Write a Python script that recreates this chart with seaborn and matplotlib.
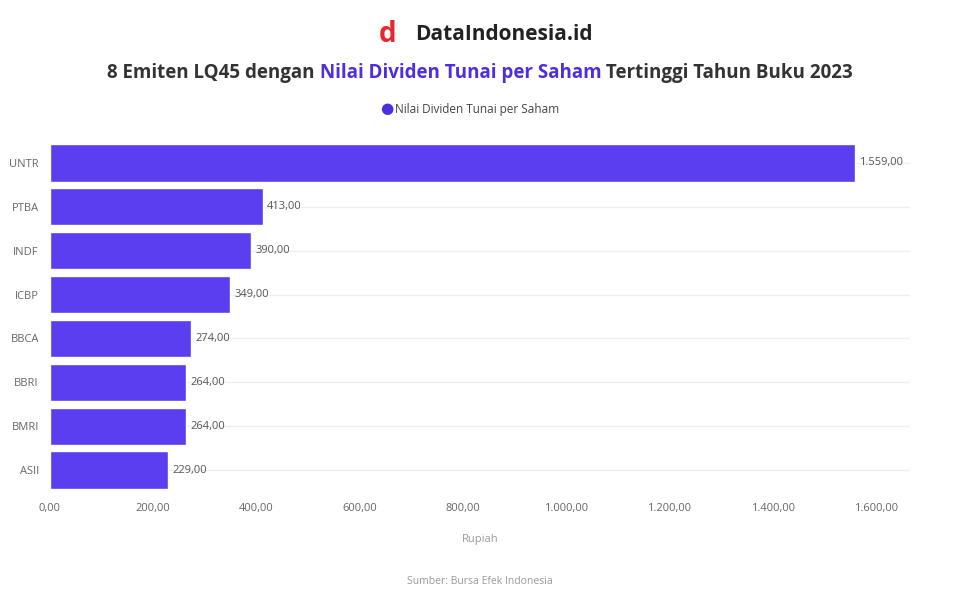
import matplotlib
matplotlib.use("Agg")
import matplotlib.pyplot as plt
import seaborn as sns
import pandas as pd
from matplotlib.ticker import FuncFormatter

emiten = ["UNTR", "PTBA", "INDF", "ICBP", "BBCA", "BBRI", "BMRI", "ASII"]
dividen = [1559, 413, 390, 349, 274, 264, 264, 229]
ticks = [0, 200, 400, 600, 800, 1000, 1200, 1400, 1600]

df = pd.DataFrame({"Emiten": emiten, "Dividen": dividen})
sns.set_theme(style="white")
plt.rcParams['font.family'] = ['Open Sans', 'DejaVu Sans']

fig = plt.figure(figsize=(9.6, 6), dpi=100)
ax = fig.add_axes([0.052, 0.18, 0.896, 0.585])
color = "#5a3ef0"
sns.barplot(data=df, x="Dividen", y="Emiten", color=color, ax=ax, width=0.85, saturation=1)
ax.set_xlim(0, 1666)
ax.set_xticks(ticks)
def fmt(v, p):
    s = f"{v:,.2f}"
    return s.replace(",", "X").replace(".", ",").replace("X", ".")
ax.xaxis.set_major_formatter(FuncFormatter(fmt))
ax.tick_params(axis='both', colors="#666666", labelsize=8, length=0, pad=8)
ax.grid(axis='y', color="#eeeeee")
for s in ax.spines.values():
    s.set_visible(False)
ax.set_ylabel("")
ax.set_xlabel("Rupiah", color="#999999", fontsize=8, labelpad=14)
for i, v in enumerate(dividen):
    ax.text(v + 8, i, fmt(v, None), va="center", fontsize=8, color="#555555")

fig.text(0.404, 0.942, "d", fontsize=20, color="#e8262b", weight="bold", ha="center", va="center")
fig.text(0.432, 0.942, "DataIndonesia.id", fontsize=15, color="#222222", weight="bold", ha="left", va="center")
y_t = 0.878
left = fig.text(0.5, y_t, "8 Emiten LQ45 dengan ", fontsize=13.5, weight="bold", color="#333333", ha="right", va="center")
t = fig.text(0.5, y_t, "Nilai Dividen Tunai per Saham", fontsize=13.5, weight="bold", color="#4b2fe0", ha="left", va="center")
fig.canvas.draw()
bb = t.get_window_extent()
lb = left.get_window_extent()
r = fig.text(bb.x1 / fig.bbox.width, y_t, " Tertinggi Tahun Buku 2023", fontsize=13.5, weight="bold", color="#333333", ha="left", va="center")
fig.canvas.draw()
rb = r.get_window_extent()
shift = (fig.bbox.width / 2 - (lb.x0 + rb.x1) / 2) / fig.bbox.width
for tx in (left, t, r):
    x, y = tx.get_position()
    tx.set_position((x + shift, y))
fig.text(0.403, 0.818, "●", fontsize=11, color="#4b2fe0", ha="center", va="center")
fig.text(0.411, 0.818, "Nilai Dividen Tunai per Saham", fontsize=8.5, color="#444444", ha="left", va="center")
fig.text(0.5, 0.03, "Sumber: Bursa Efek Indonesia", fontsize=7.5, color="#999999", ha="center", va="center")
fig.savefig("out.png", dpi=100)
